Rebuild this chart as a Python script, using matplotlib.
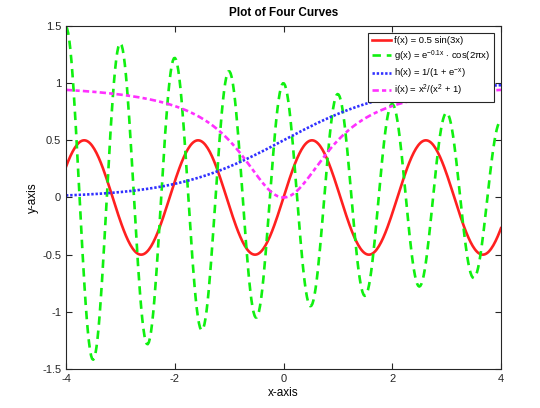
import numpy as np
import matplotlib
matplotlib.use("Agg")
import matplotlib.pyplot as plt

plt.rcParams["font.family"] = ["Liberation Sans", "DejaVu Sans"]
plt.rcParams["mathtext.fontset"] = "custom"
plt.rcParams["mathtext.rm"] = "Liberation Sans"
plt.rcParams["mathtext.it"] = "Liberation Sans"
plt.rcParams["axes.unicode_minus"] = False

# curves as stated in the legend, on the plotted range
x_range = [-4, 4]
n_points = 400
x = np.linspace(x_range[0], x_range[1], n_points)

f_amp, f_freq = 0.5, 3
g_decay = 0.1
y_f = f_amp * np.sin(f_freq * x)
y_g = np.exp(-g_decay * x) * np.cos(2 * np.pi * x)
y_h = 1 / (1 + np.exp(-x))
y_i = x**2 / (x**2 + 1)

labels = [
    r"f(x) = 0.5 sin(3x)",
    r"g(x) = e$^{-0.1x}$ $\cdot$ cos(2$\pi$x)",
    r"h(x) = 1/(1 + e$^{-x}$)",
    r"i(x) = x$^2$/(x$^2$ + 1)",
]
x_ticks = [-4, -2, 0, 2, 4]
y_ticks = [-1.5, -1, -0.5, 0, 0.5, 1, 1.5]
y_tick_labels = ["-1.5", "-1", "-0.5", "0", "0.5", "1", "1.5"]

fig = plt.figure(figsize=(5.4, 4.08), dpi=100)
ax = fig.add_axes([0.1222, 0.0956, 0.8056, 0.8407])

ax.plot(x, y_f, color="#ff2020", lw=1.9, label=labels[0])
ax.plot(x, y_g, color="#10f010", lw=1.9, ls=(0, (3.2, 2.2)), label=labels[1])
ax.plot(x, y_h, color="#3030ff", lw=1.9, ls=(0, (0.9, 0.7)), label=labels[2])
ax.plot(x, y_i, color="#ff30ff", lw=1.9, ls=(0, (2.4, 1.2, 1.6, 1.2)), label=labels[3])

ax.set_xlim(x_range)
ax.set_ylim(-1.5, 1.5)
ax.set_xticks(x_ticks)
ax.set_yticks(y_ticks)
ax.set_yticklabels(y_tick_labels)
ax.tick_params(direction="in", top=True, right=True, length=4, labelsize=8,
               labelcolor="#262626", color="#262626")
for s in ax.spines.values():
    s.set_color("#262626")
    s.set_linewidth(0.8)

ax.set_title("Plot of Four Curves", fontsize=8.5, fontweight="bold", pad=7)
ax.set_xlabel("x-axis", fontsize=8.5, labelpad=2)
ax.set_ylabel("y-axis", fontsize=8.5, labelpad=2)

leg = ax.legend(loc="upper right", fontsize=6.8, fancybox=False, framealpha=1,
                edgecolor="#262626", handlelength=2.0, borderaxespad=0.7,
                labelspacing=0.3, handletextpad=0.4, borderpad=0.4)
leg.get_frame().set_linewidth(0.8)

fig.savefig("out.png", dpi=100)
